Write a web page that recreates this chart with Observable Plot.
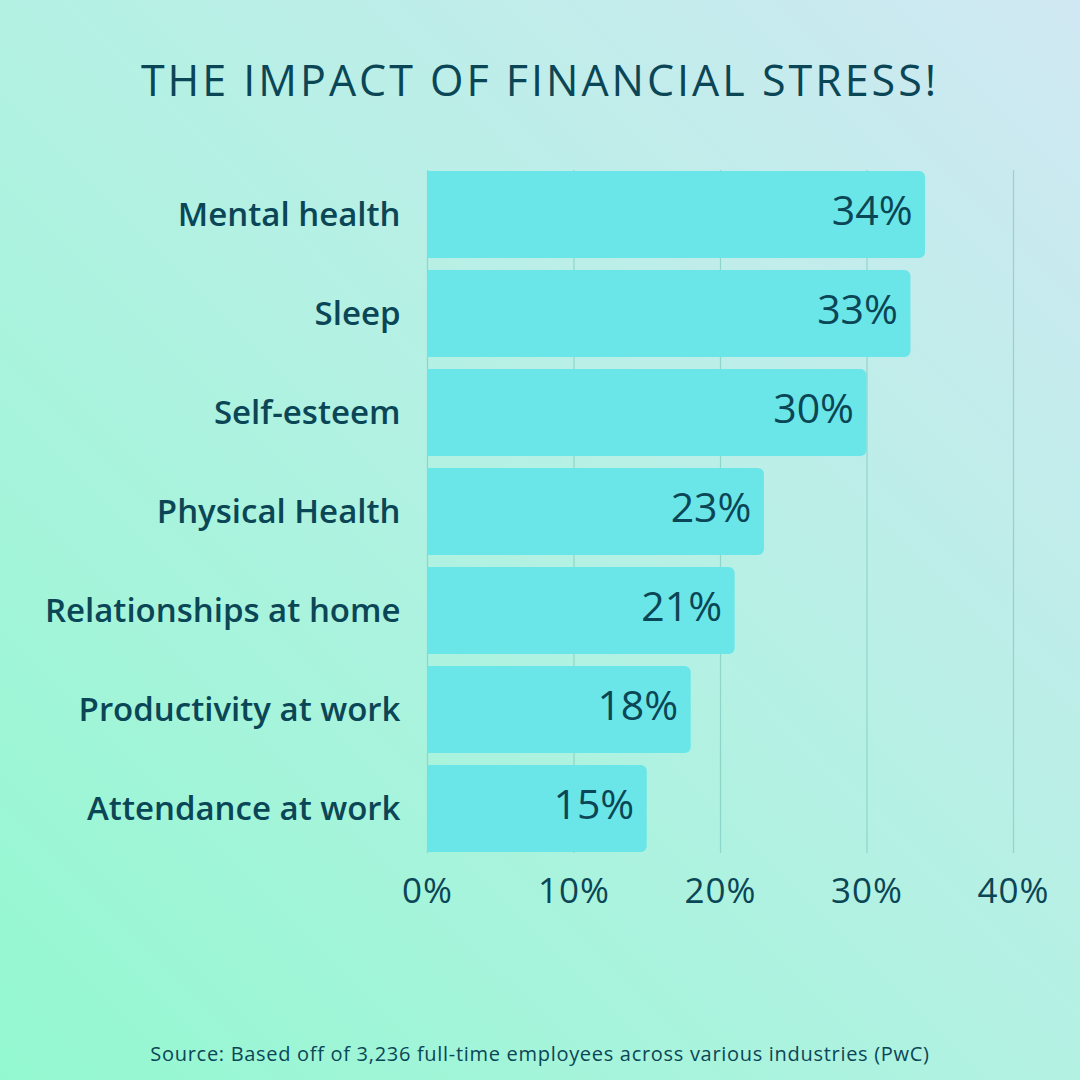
<!DOCTYPE html>
<html>
<head>
<meta charset="utf-8">
<script src="https://cdn.jsdelivr.net/npm/d3@7"></script>
<script src="https://cdn.jsdelivr.net/npm/@observablehq/plot@0.6"></script>
<style>
  html, body { margin: 0; padding: 0; }
  #page {
    position: relative; width: 1080px; height: 1080px; overflow: hidden;
    background: linear-gradient(to top right, #93f8d0 0%, #b3f1e3 50%, #d0e8f3 100%);
    font-family: "Open Sans", Lato, sans-serif; color: #0b4656;
  }
  #title {
    position: absolute; top: 50px; left: 0; width: 1080px; text-align: center;
    font-size: 43px; font-weight: 400; letter-spacing: 3px; color: #0b4656;
  }
  #chart { position: absolute; top: 150px; left: 0; }
  #caption {
    position: absolute; top: 1040px; left: 0; width: 1080px; text-align: center;
    font-size: 20px; letter-spacing: 0.7px; color: #0b4656;
  }
</style>
</head>
<body>
<div id="page">
  <div id="title">THE IMPACT OF FINANCIAL STRESS!</div>
  <div id="chart"></div>
  <div id="caption">Source: Based off of 3,236 full-time employees across various industries (PwC)</div>
</div>
<script>
const categories = ["Mental health", "Sleep", "Self-esteem", "Physical Health", "Relationships at home", "Productivity at work", "Attendance at work"];
const values = [34, 33, 30, 23, 21, 18, 15];
const xTicks = [0, 10, 20, 30, 40];

const data = categories.map((c, i) => ({category: c, value: values[i]}));
const ink = "#0b4656";

const chart = Plot.plot({
  width: 1080,
  height: 780,
  marginLeft: 427,
  marginRight: 67,
  marginTop: 20,
  marginBottom: 77,
  style: {background: "transparent", fontFamily: "'Open Sans', Lato, sans-serif", color: ink},
  x: {domain: [0, 40], ticks: xTicks, tickFormat: d => d + "%", label: null},
  y: {domain: categories, paddingInner: 0.125, paddingOuter: 0, label: null},
  marks: [
    Plot.gridX(xTicks, {stroke: "#7fc9bd", strokeOpacity: 0.7, strokeWidth: 1.2}),
    Plot.barX(data, {y: "category", x1: 0, x2: "value", fill: "#6be6e8", rx: 6}),
    Plot.barX(data, {y: "category", x1: 0, x2: d => d.value / 2, fill: "#6be6e8"}),
    Plot.text(data, {y: "category", x: "value", text: d => d.value + "%", textAnchor: "end", dx: -13, dy: -3, fontSize: 41, fill: ink}),
    Plot.axisX(xTicks, {tickSize: 0, tickPadding: 25, fontSize: 35, tickFormat: d => d + "%", label: null, fill: ink}),
    Plot.axisY({tickSize: 0, tickPadding: 27, fontSize: 33, fontWeight: 600, label: null, fill: ink})
  ]
});
document.getElementById("chart").appendChild(chart);
// letter spacing on x tick labels to match the wide reference face
chart.querySelectorAll("[aria-label='x-axis tick label'] text").forEach(t => t.setAttribute("letter-spacing", "1"));
</script>
</body>
</html>
